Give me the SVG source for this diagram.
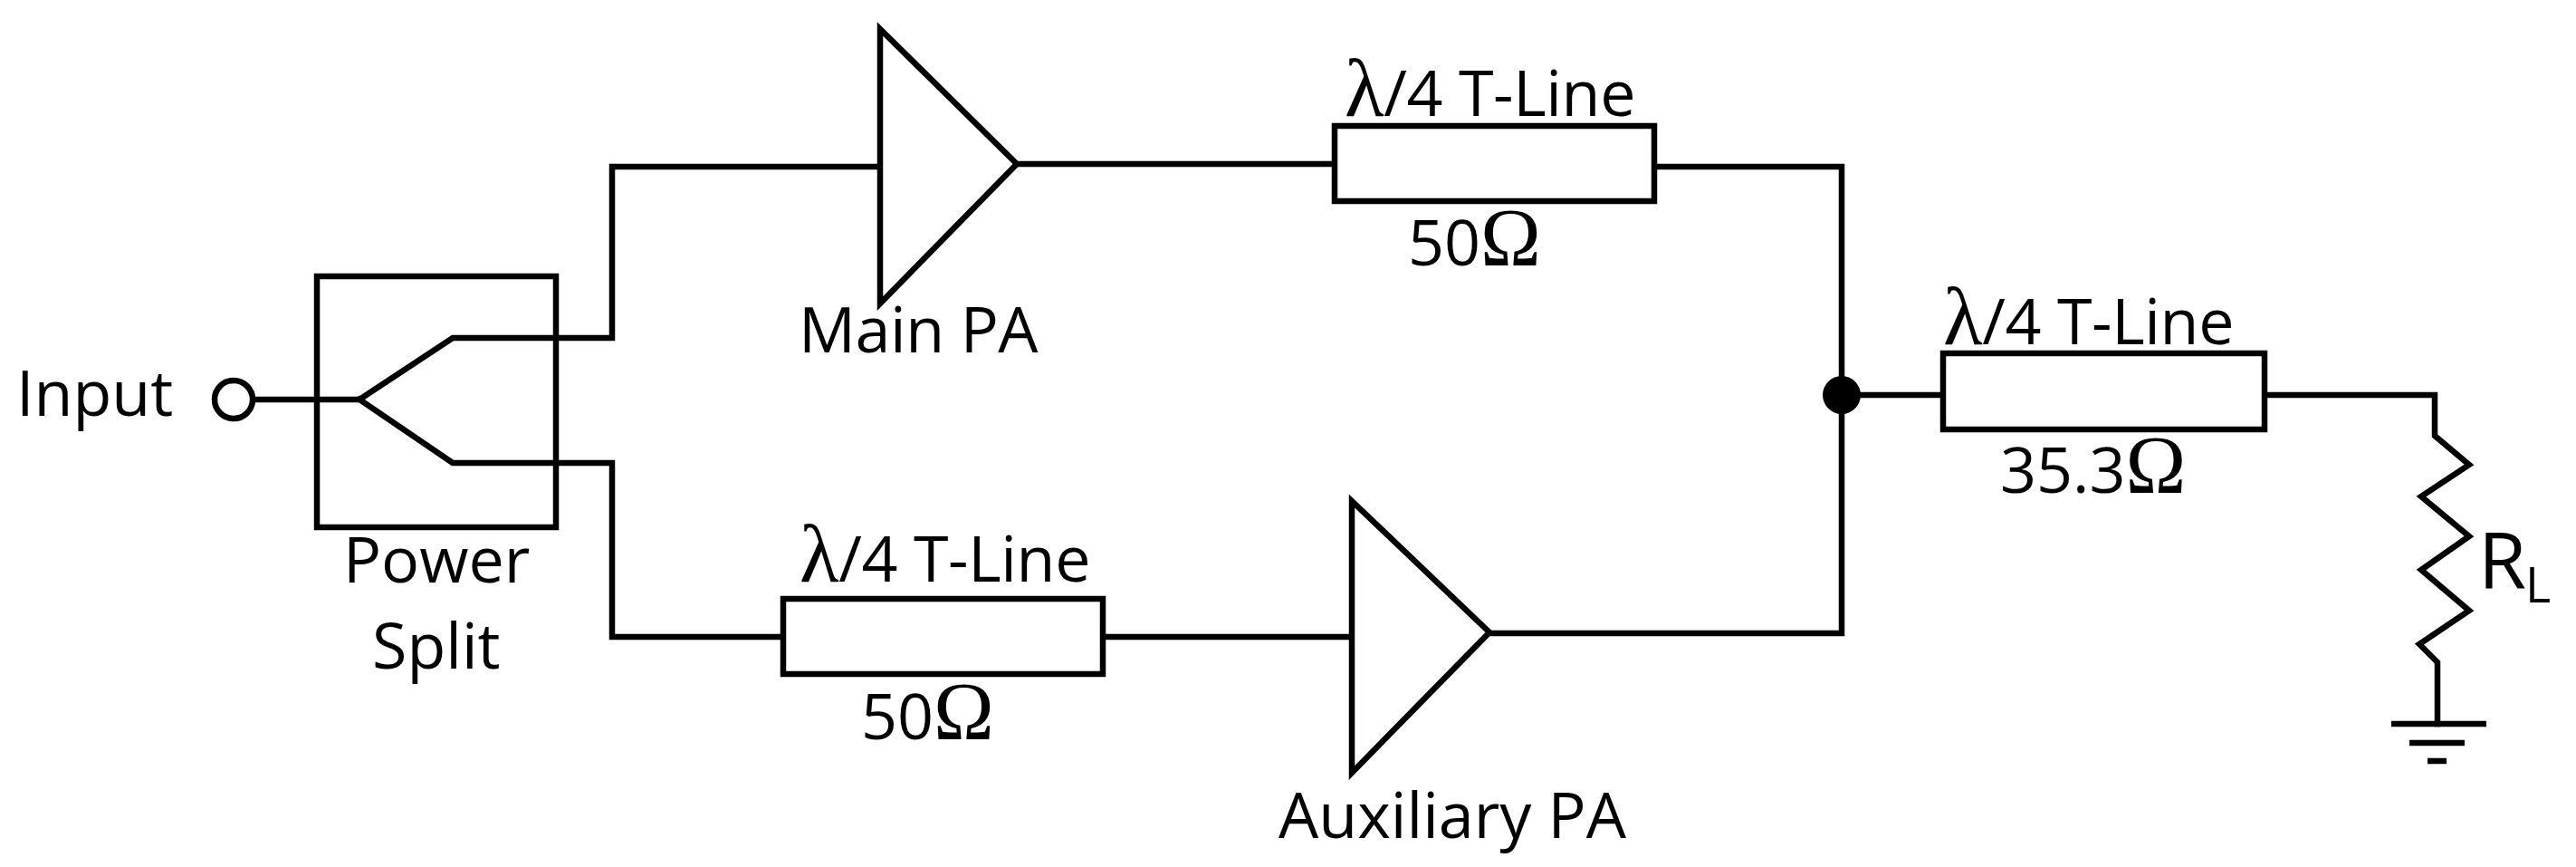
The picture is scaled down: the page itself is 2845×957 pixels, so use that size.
<svg xmlns="http://www.w3.org/2000/svg" width="2845" height="957" viewBox="0 0 2845 957">
<style>
.w{fill:none;stroke:#000;stroke-width:6.5;stroke-linejoin:miter;stroke-linecap:square}
.s{fill:#fff;stroke:#000;stroke-width:6.5;stroke-linejoin:miter}
.n{fill:none;stroke:#000;stroke-width:6.5}
text{font-family:"Open Sans","Noto Sans","Liberation Sans",sans-serif;font-size:70px;fill:#000}
.g{font-family:"Liberation Serif","DejaVu Serif",serif;font-size:90px}
.t{letter-spacing:-0.4px}
</style>
<rect width="2845" height="957" fill="#fff"/>
<g id="connectors">
<path class="w" d="M280 441H397L500 373H676V184H972"/>
<path class="w" d="M397 441L500 511H676V703H865"/>
<path class="w" d="M1123 181H1474"/>
<path class="w" d="M1827 184H2034V699H1645"/>
<path class="w" d="M1218 703H1493"/>
<path class="w" d="M2034 436H2148"/>
<path class="w" d="M2501 436H2689V481L2727 513L2674 548L2727 592L2674 629L2727 674L2672 711L2692 731V799"/>
</g>
<g id="input"><circle class="s" cx="258" cy="441" r="21"/><text x="18" y="459">Input</text></g>
<g id="power-split"><rect class="n" x="350" y="305" width="264" height="277"/><text x="379" y="643">Power</text><text x="411" y="738">Split</text></g>
<g id="main-pa"><path class="s" d="M972 32V335L1123 181Z"/><text x="882" y="389" class="t">Main PA</text></g>
<g id="aux-pa"><path class="s" d="M1493 553V853L1645 698Z"/><text x="1412" y="925">Auxiliary PA</text></g>
<g id="tline-main"><rect class="s" x="1474" y="139" width="353" height="83"/><text x="1485" y="128" class="t"><tspan class="g">λ</tspan>/4 T-Line</text><text x="1555" y="293">50<tspan class="g">Ω</tspan></text></g>
<g id="tline-aux"><rect class="s" x="865" y="661" width="353" height="83"/><text x="883" y="642" class="t"><tspan class="g">λ</tspan>/4 T-Line</text><text x="951" y="816">50<tspan class="g">Ω</tspan></text></g>
<g id="tline-out"><rect class="s" x="2146" y="390" width="355" height="84"/><text x="2146" y="380" class="t"><tspan class="g">λ</tspan>/4 T-Line</text><text x="2209" y="544">35.3<tspan class="g">Ω</tspan></text></g>
<g id="junction"><circle cx="2034" cy="436" r="21" fill="#000"/></g>
<g id="load"><text x="2737" y="650" style="font-size:86px">R</text><text x="2789" y="665" style="font-size:54px">L</text></g>
<g id="ground"><path class="n" d="M2641 799H2746M2661 820H2722M2681 840H2702"/></g>
</svg>
